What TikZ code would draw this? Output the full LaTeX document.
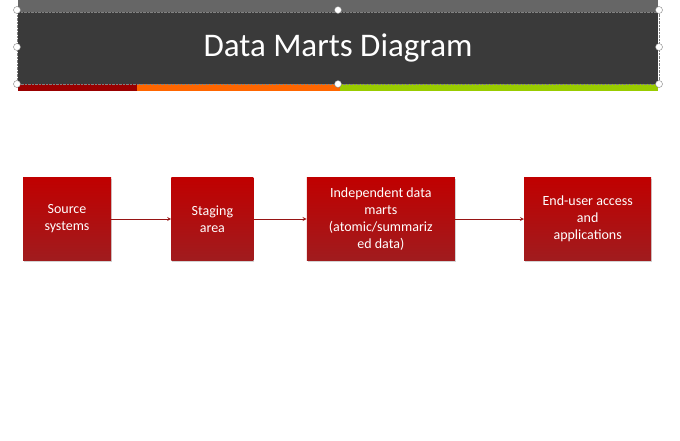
\documentclass[tikz,border=0pt]{standalone}
\usepackage{fontspec}
\setmainfont{Carlito}
\usetikzlibrary{positioning,shadows}
\definecolor{martred}{RGB}{192, 0, 0}
\definecolor{martdark}{RGB}{160, 28, 30}
\definecolor{arrowred}{RGB}{150, 20, 20}
\definecolor{titlegray}{RGB}{58, 58, 58}
\definecolor{stripgray}{RGB}{102, 102, 102}
\definecolor{stripred}{RGB}{153, 0, 0}
\definecolor{striporange}{RGB}{255, 102, 0}
\definecolor{stripgreen}{RGB}{153, 204, 0}

\begin{document}
\begin{tikzpicture}[
    x=1pt, y=-1pt,
    node distance=60pt,
    martbox/.style={rectangle, top color=martred, bottom color=martdark, draw=none, minimum height=83pt, align=center, text=white, font=\fontsize{14}{17}\selectfont, drop shadow={shadow xshift=1pt, shadow yshift=-1pt, opacity=0.35}},
    arrow/.style={->, >=stealth, thick, arrowred},
    handle/.style={circle, draw=gray, fill=white, inner sep=0pt, minimum size=7pt}
]
    \useasboundingbox (0,0) rectangle (680,440);
    % title bar
    \fill[stripgray] (18,0) rectangle (658,12);
    \fill[titlegray] (18,12) rectangle (658,84);
    \fill[stripred] (18,84) rectangle (137,91);
    \fill[striporange] (137,84) rectangle (340,91);
    \fill[stripgreen] (340,84) rectangle (658,91);
    \draw[gray, densely dotted] (17,12) rectangle (659,84);
    \node[text=white, font=\fontsize{33}{38}\selectfont] (title) at (338,48) {Data Marts Diagram};
    \foreach \hx in {17,338,659}
        \foreach \hy in {10,84}
            \node[handle] at (\hx,\hy) {};
    \node[handle] at (17,47) {};
    \node[handle] at (659,47) {};

    % boxes
    \node[martbox, minimum width=88pt] (source) at (67,219) {Source\\systems};
    \node[martbox, minimum width=82pt, right=60pt of source] (staging) {Staging\\area};
    \node[martbox, minimum width=148pt, right=53pt of staging] (marts) {Independent data\\marts\\(atomic/summariz\\ed data)};
    \node[martbox, minimum width=127pt, right=69pt of marts] (enduser) {End-user access\\and\\applications};

    \draw[arrow] (source) -- (staging);
    \draw[arrow] (staging) -- (marts);
    \draw[arrow] (marts) -- (enduser);
\end{tikzpicture}
\end{document}
